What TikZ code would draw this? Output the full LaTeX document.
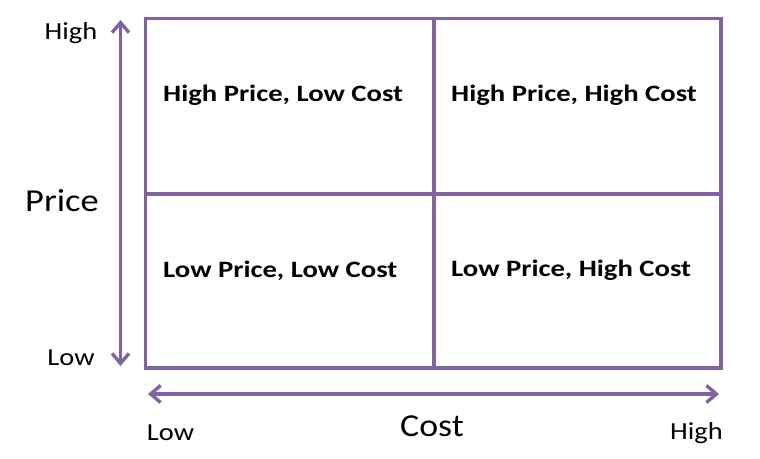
\documentclass[tikz,border=0pt]{standalone}
\usepackage{fontspec}
\setmainfont{Carlito}
\usetikzlibrary{arrows.meta}
\definecolor{purp}{RGB}{128,100,162}
\newcommand{\hs}[2]{\scalebox{#1}[1]{#2}}
\begin{document}
\begin{tikzpicture}[x=1pt,y=-1pt,
  grid/.style={draw=purp,line width=3.2pt},
  axis/.style={draw=purp,line width=3.2pt,{Straight Barb[length=10pt,width=17pt,line width=3.4pt]}-{Straight Barb[length=10pt,width=17pt,line width=3.4pt]}},
  cell/.style={anchor=base west,inner sep=0pt,font=\fontsize{23.5}{27}\selectfont\bfseries},
  tick/.style={anchor=base,inner sep=0pt,font=\fontsize{24.5}{28}\selectfont},
  big/.style={anchor=base,inner sep=0pt,font=\fontsize{32}{36}\selectfont}]
\useasboundingbox (0,0) rectangle (760,458);
\fill[white] (0,0) rectangle (760,458);
\coordinate (tl) at (145.5,18.5);
\coordinate (br) at (721,368);
\coordinate (mt) at (434,18.5);
\coordinate (mb) at (434,368);
\coordinate (ml) at (145.5,194);
\coordinate (mr) at (721,194);
\draw[grid] (tl) rectangle (br);
\draw[grid] (mt) -- (mb);
\draw[grid] (ml) -- (mr);
\coordinate (vt) at (120.5,20);
\coordinate (vb) at (120.5,366);
\coordinate (hl) at (148,394);
\coordinate (hr) at (719,394);
\draw[axis] (vt) -- (vb);
\draw[axis] (hl) -- (hr);
\node[cell] (c1) at (163,101.7) {\hs{1.22}{High Price, Low Cost}};
\node[cell] (c2) at (451,101.7) {\hs{1.22}{High Price, High Cost}};
\node[cell] (c3) at (163,277) {\hs{1.22}{Low Price, Low Cost}};
\node[cell] (c4) at (451,276.5) {\hs{1.22}{Low Price, High Cost}};
\node[tick] (yh) at (71,39.5) {\hs{1.16}{High}};
\node[tick] (yl) at (71,365) {\hs{1.16}{Low}};
\node[big] (yp) at (62,211.7) {\hs{1.14}{Price}};
\node[big] (xc) at (432,436.5) {\hs{1.12}{Cost}};
\node[tick] (xl) at (170.5,440) {\hs{1.16}{Low}};
\node[tick] (xh) at (696.5,439.5) {\hs{1.16}{High}};
\end{tikzpicture}
\end{document}
